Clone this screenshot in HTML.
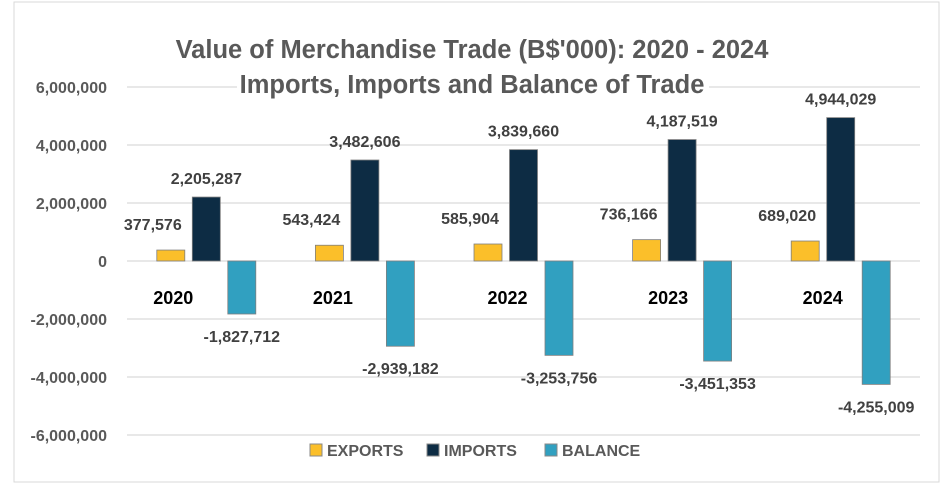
<!DOCTYPE html>
<html><head><meta charset="utf-8"><style>
body{margin:0;background:#fff;}
svg{display:block;font-family:"Liberation Sans",sans-serif;}
</style></head><body>
<svg id="c" width="947" height="498">
<rect x="14" y="2" width="925" height="480" fill="#fff" stroke="#d9d9d9"/>
<g id="grid"></g>
<rect x="237" y="32" width="472" height="70" fill="#fff"/>
<text x="472" y="58" text-anchor="middle" font-size="25.5" font-weight="bold" fill="#595959">Value of Merchandise Trade (B$'000): 2020 - 2024</text>
<text x="472" y="93" text-anchor="middle" font-size="25.5" font-weight="bold" fill="#595959">Imports, Imports and Balance of Trade</text>
<g id="bars"></g><g id="labels"></g>
<g font-size="16" font-weight="bold" fill="#595959">
<rect x="310" y="444" width="12" height="12" fill="#fbbf2a" stroke="#888"/>
<text x="327" y="456">EXPORTS</text>
<rect x="427" y="444" width="12" height="12" fill="#0d2c44" stroke="#888"/>
<text x="444" y="456">IMPORTS</text>
<rect x="545" y="444" width="12" height="12" fill="#31a0c0" stroke="#888"/>
<text x="562" y="456">BALANCE</text>
</g>
</svg>
<script>
const years=["2020","2021","2022","2023","2024"];
const exportsV=[377576,543424,585904,736166,689020];
const importsV=[2205287,3482606,3839660,4187519,4944029];
const balanceV=[-1827712,-2939182,-3253756,-3451353,-4255009];
const ticks=[6000000,4000000,2000000,0,-2000000,-4000000,-6000000];
const NS="http://www.w3.org/2000/svg";
const x0=127,x1=920,y0=261,pxPer=58/2000000;
const y=v=>y0-v*pxPer;
const band=(x1-x0)/years.length;
const yearShift=[-33,-32,-16,-14,-18];
const fmt=v=>(v<0?"-":"")+Math.abs(v).toLocaleString("en-US");
function mk(tag,attrs,parent){const e=document.createElementNS(NS,tag);for(const k in attrs)e.setAttribute(k,attrs[k]);document.getElementById(parent).appendChild(e);return e;}
ticks.forEach(t=>{
 const l=mk("line",{x1:x0,x2:x1,y1:y(t),y2:y(t),stroke:"#d9d9d9","stroke-width":1.3},"grid");
 
 
 const tx=mk("text",{x:107,y:y(t)+6,"text-anchor":"end","font-size":16,"font-weight":"bold",fill:"#595959"},"grid");
 tx.textContent=fmt(t);
 
 
});
const series=[[exportsV,"#fbbf2a","export"],[importsV,"#0d2c44","import"],[balanceV,"#31a0c0","balance"]];
const bw=28,gap=7.5;
years.forEach((yr,i)=>{
 const c=x0+band*(i+0.5);
 series.forEach((s,j)=>{
  const v=s[0][i],bx=c-bw*1.5-gap+j*(bw+gap);
  const top=Math.min(y(v),y0),h=Math.abs(y(v)-y0);
  const r=mk("rect",{x:bx,y:top,width:bw,height:h,fill:s[1],stroke:"#7f7f7f","stroke-width":0.8},"bars");
  
  
  let lx,ly;
  if(j==0){lx=bx-4;ly=y(v)-20;}
  else if(j==1){lx=bx+bw/2;ly=y(v)-13;}
  else{lx=bx+bw/2;ly=y(v)+28;}
  const t=mk("text",{x:lx,y:ly,"text-anchor":"middle","font-size":16,"font-weight":"bold",fill:"#404040"},"labels");
  t.textContent=fmt(v);
  
  
 });
 const yl=mk("text",{x:c+yearShift[i],y:304,"text-anchor":"middle","font-size":18,"font-weight":"bold",fill:"#000"},"labels");
 yl.textContent=yr;
 
 
});
</script>
</body></html>
